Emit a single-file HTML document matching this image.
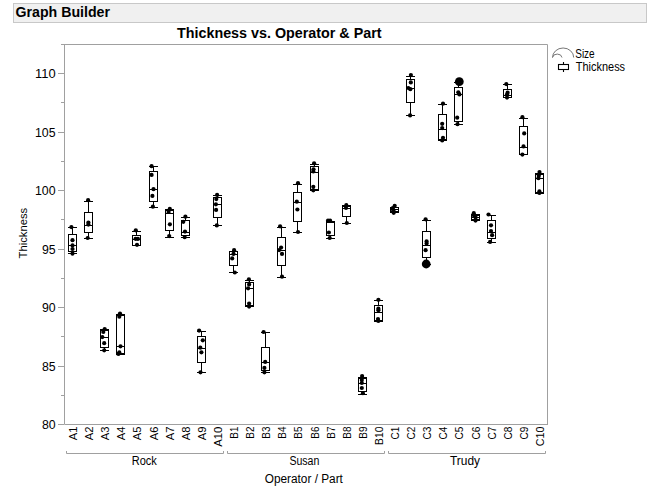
<!DOCTYPE html>
<html><head><meta charset="utf-8"><title>Graph Builder</title>
<style>html,body{margin:0;padding:0;background:#fff;} svg{display:block;}</style>
</head><body>
<svg width="648" height="490" viewBox="0 0 648 490">
<rect width="648" height="490" fill="#fff"/>
<rect x="13.5" y="3.5" width="633" height="19" fill="#f0f0f0" stroke="#c8c8c8" stroke-width="1"/>
<text x="15.5" y="17.3" font-family="'Liberation Sans', Arial, sans-serif" font-weight="bold" font-size="14" fill="#000" textLength="94.5" lengthAdjust="spacingAndGlyphs">Graph Builder</text>
<text x="177" y="37.6" font-family="'Liberation Sans', Arial, sans-serif" font-weight="bold" font-size="14.5" fill="#000" textLength="204.5" lengthAdjust="spacingAndGlyphs">Thickness vs. Operator &amp; Part</text>
<path d="M64.5 44 V424.5 H548 M64 44.5 H547.5 V424" fill="none" stroke="#a0a0a0" stroke-width="1"/>
<path d="M58 424.5 H64 M61 395.5 H64 M58 366.5 H64 M61 336.5 H64 M58 307.5 H64 M61 278.5 H64 M58 249.5 H64 M61 219.5 H64 M58 190.5 H64 M61 161.5 H64 M58 132.5 H64 M61 102.5 H64 M58 73.5 H64 M61 44.5 H64" stroke="#a0a0a0" stroke-width="1"/>
<text x="55.6" y="429.0" font-family="'Liberation Sans', Arial, sans-serif" font-size="12.3" fill="#000" text-anchor="end" textLength="13.7" lengthAdjust="spacingAndGlyphs">80</text>
<text x="55.6" y="371.0" font-family="'Liberation Sans', Arial, sans-serif" font-size="12.3" fill="#000" text-anchor="end" textLength="13.7" lengthAdjust="spacingAndGlyphs">85</text>
<text x="55.6" y="312.0" font-family="'Liberation Sans', Arial, sans-serif" font-size="12.3" fill="#000" text-anchor="end" textLength="13.7" lengthAdjust="spacingAndGlyphs">90</text>
<text x="55.6" y="254.0" font-family="'Liberation Sans', Arial, sans-serif" font-size="12.3" fill="#000" text-anchor="end" textLength="13.7" lengthAdjust="spacingAndGlyphs">95</text>
<text x="55.6" y="195.0" font-family="'Liberation Sans', Arial, sans-serif" font-size="12.3" fill="#000" text-anchor="end" textLength="20.6" lengthAdjust="spacingAndGlyphs">100</text>
<text x="55.6" y="137.0" font-family="'Liberation Sans', Arial, sans-serif" font-size="12.3" fill="#000" text-anchor="end" textLength="20.6" lengthAdjust="spacingAndGlyphs">105</text>
<text x="55.6" y="78.0" font-family="'Liberation Sans', Arial, sans-serif" font-size="12.3" fill="#000" text-anchor="end" textLength="20.6" lengthAdjust="spacingAndGlyphs">110</text>
<text transform="translate(27.4 233.1) rotate(-90)" font-family="'Liberation Sans', Arial, sans-serif" font-size="11.4" fill="#000" text-anchor="middle" textLength="50.6" lengthAdjust="spacingAndGlyphs">Thickness</text>
<path d="M72.5 227.5 V234.5 M72.5 251.5 V253.5 M68.0 227.5 H77.0 M68.0 253.5 H77.0 M68.5 245.5 H76.5" stroke="#000" stroke-width="1" fill="none"/>
<rect x="68.5" y="234.5" width="8" height="17" fill="none" stroke="#000" stroke-width="1"/>
<circle cx="71.4" cy="227.1" r="2.1" fill="#000"/>
<circle cx="72.5" cy="240.2" r="2.1" fill="#000"/>
<circle cx="72.5" cy="245.4" r="2.1" fill="#000"/>
<circle cx="72.5" cy="249.0" r="2.1" fill="#000"/>
<circle cx="72.5" cy="253.6" r="2.1" fill="#000"/>
<text transform="translate(77.2 426.6) rotate(-90)" font-family="'Liberation Sans', Arial, sans-serif" font-size="11.5" fill="#000" text-anchor="end" textLength="13.7" lengthAdjust="spacingAndGlyphs">A1</text>
<path d="M88.5 201.5 V212.5 M88.5 232.5 V238.5 M84.0 201.5 H93.0 M84.0 238.5 H93.0 M84.5 225.5 H92.5" stroke="#000" stroke-width="1" fill="none"/>
<rect x="84.5" y="212.5" width="8" height="20" fill="none" stroke="#000" stroke-width="1"/>
<circle cx="88.1" cy="200.2" r="2.1" fill="#000"/>
<circle cx="88.4" cy="222.5" r="2.1" fill="#000"/>
<circle cx="88.4" cy="224.6" r="2.1" fill="#000"/>
<circle cx="87.7" cy="238.0" r="2.1" fill="#000"/>
<text transform="translate(93.2 426.6) rotate(-90)" font-family="'Liberation Sans', Arial, sans-serif" font-size="11.5" fill="#000" text-anchor="end" textLength="13.7" lengthAdjust="spacingAndGlyphs">A2</text>
<path d="M104.5 329.5 V330.5 M104.5 347.5 V350.5 M100.0 329.5 H109.0 M100.0 350.5 H109.0 M100.5 337.5 H108.5" stroke="#000" stroke-width="1" fill="none"/>
<rect x="100.5" y="330.5" width="8" height="17" fill="none" stroke="#000" stroke-width="1"/>
<circle cx="104.7" cy="329.0" r="2.1" fill="#000"/>
<circle cx="103.3" cy="332.0" r="2.1" fill="#000"/>
<circle cx="102.3" cy="337.1" r="2.1" fill="#000"/>
<circle cx="104.2" cy="343.2" r="2.1" fill="#000"/>
<circle cx="104.2" cy="350.3" r="2.1" fill="#000"/>
<text transform="translate(109.2 426.6) rotate(-90)" font-family="'Liberation Sans', Arial, sans-serif" font-size="11.5" fill="#000" text-anchor="end" textLength="13.7" lengthAdjust="spacingAndGlyphs">A3</text>
<path d="M120.5 314.5 V315.5 M120.5 353.5 V354.5 M116.0 314.5 H125.0 M116.0 354.5 H125.0 M116.5 346.5 H124.5" stroke="#000" stroke-width="1" fill="none"/>
<rect x="116.5" y="315.5" width="8" height="38" fill="none" stroke="#000" stroke-width="1"/>
<circle cx="120.0" cy="313.6" r="2.1" fill="#000"/>
<circle cx="119.3" cy="316.7" r="2.1" fill="#000"/>
<circle cx="120.5" cy="346.3" r="2.1" fill="#000"/>
<circle cx="119.3" cy="352.4" r="2.1" fill="#000"/>
<circle cx="118.4" cy="353.9" r="2.1" fill="#000"/>
<text transform="translate(125.2 426.6) rotate(-90)" font-family="'Liberation Sans', Arial, sans-serif" font-size="11.5" fill="#000" text-anchor="end" textLength="13.7" lengthAdjust="spacingAndGlyphs">A4</text>
<path d="M136.5 231.5 V235.5 M132.0 231.5 H141.0 M132.0 245.5 H141.0 M132.5 239.5 H140.5" stroke="#000" stroke-width="1" fill="none"/>
<rect x="132.5" y="235.5" width="8" height="10" fill="none" stroke="#000" stroke-width="1"/>
<circle cx="135.8" cy="230.3" r="2.1" fill="#000"/>
<circle cx="135.6" cy="238.8" r="2.1" fill="#000"/>
<circle cx="137.9" cy="238.9" r="2.1" fill="#000"/>
<circle cx="137.0" cy="244.8" r="2.1" fill="#000"/>
<text transform="translate(141.2 426.6) rotate(-90)" font-family="'Liberation Sans', Arial, sans-serif" font-size="11.5" fill="#000" text-anchor="end" textLength="13.7" lengthAdjust="spacingAndGlyphs">A5</text>
<path d="M153.5 166.5 V171.5 M153.5 201.5 V207.5 M149.0 166.5 H158.0 M149.0 207.5 H158.0 M149.5 189.5 H157.5" stroke="#000" stroke-width="1" fill="none"/>
<rect x="149.5" y="171.5" width="8" height="30" fill="none" stroke="#000" stroke-width="1"/>
<circle cx="151.6" cy="166.2" r="2.1" fill="#000"/>
<circle cx="151.6" cy="174.9" r="2.1" fill="#000"/>
<circle cx="153.5" cy="189.2" r="2.1" fill="#000"/>
<circle cx="152.4" cy="195.9" r="2.1" fill="#000"/>
<circle cx="152.9" cy="206.7" r="2.1" fill="#000"/>
<text transform="translate(158.2 426.6) rotate(-90)" font-family="'Liberation Sans', Arial, sans-serif" font-size="11.5" fill="#000" text-anchor="end" textLength="13.7" lengthAdjust="spacingAndGlyphs">A6</text>
<path d="M169.5 209.5 V210.5 M169.5 230.5 V237.5 M165.0 209.5 H174.0 M165.0 237.5 H174.0 M165.5 213.5 H173.5" stroke="#000" stroke-width="1" fill="none"/>
<rect x="165.5" y="210.5" width="8" height="20" fill="none" stroke="#000" stroke-width="1"/>
<circle cx="169.8" cy="208.9" r="2.1" fill="#000"/>
<circle cx="168.6" cy="212.0" r="2.1" fill="#000"/>
<circle cx="169.9" cy="224.3" r="2.1" fill="#000"/>
<circle cx="169.2" cy="236.1" r="2.1" fill="#000"/>
<text transform="translate(174.2 426.6) rotate(-90)" font-family="'Liberation Sans', Arial, sans-serif" font-size="11.5" fill="#000" text-anchor="end" textLength="13.7" lengthAdjust="spacingAndGlyphs">A7</text>
<path d="M185.5 217.5 V220.5 M185.5 235.5 V237.5 M181.0 217.5 H190.0 M181.0 237.5 H190.0 M181.5 232.5 H189.5" stroke="#000" stroke-width="1" fill="none"/>
<rect x="181.5" y="220.5" width="8" height="15" fill="none" stroke="#000" stroke-width="1"/>
<circle cx="185.4" cy="216.7" r="2.1" fill="#000"/>
<circle cx="183.3" cy="221.8" r="2.1" fill="#000"/>
<circle cx="185.0" cy="231.6" r="2.1" fill="#000"/>
<circle cx="184.7" cy="237.2" r="2.1" fill="#000"/>
<text transform="translate(190.2 426.6) rotate(-90)" font-family="'Liberation Sans', Arial, sans-serif" font-size="11.5" fill="#000" text-anchor="end" textLength="13.7" lengthAdjust="spacingAndGlyphs">A8</text>
<path d="M201.5 331.5 V336.5 M201.5 362.5 V372.5 M197.0 331.5 H206.0 M197.0 372.5 H206.0 M197.5 348.5 H205.5" stroke="#000" stroke-width="1" fill="none"/>
<rect x="197.5" y="336.5" width="8" height="26" fill="none" stroke="#000" stroke-width="1"/>
<circle cx="199.1" cy="330.6" r="2.1" fill="#000"/>
<circle cx="202.8" cy="340.3" r="2.1" fill="#000"/>
<circle cx="200.3" cy="347.7" r="2.1" fill="#000"/>
<circle cx="201.4" cy="352.3" r="2.1" fill="#000"/>
<circle cx="200.5" cy="372.3" r="2.1" fill="#000"/>
<text transform="translate(206.2 426.6) rotate(-90)" font-family="'Liberation Sans', Arial, sans-serif" font-size="11.5" fill="#000" text-anchor="end" textLength="13.7" lengthAdjust="spacingAndGlyphs">A9</text>
<path d="M217.5 195.5 V197.5 M217.5 217.5 V225.5 M213.0 195.5 H222.0 M213.0 225.5 H222.0 M213.5 204.5 H221.5" stroke="#000" stroke-width="1" fill="none"/>
<rect x="213.5" y="197.5" width="8" height="20" fill="none" stroke="#000" stroke-width="1"/>
<circle cx="217.1" cy="194.9" r="2.1" fill="#000"/>
<circle cx="216.3" cy="199.1" r="2.1" fill="#000"/>
<circle cx="215.9" cy="204.3" r="2.1" fill="#000"/>
<circle cx="216.1" cy="209.9" r="2.1" fill="#000"/>
<circle cx="216.8" cy="225.4" r="2.1" fill="#000"/>
<text transform="translate(222.2 426.6) rotate(-90)" font-family="'Liberation Sans', Arial, sans-serif" font-size="11.5" fill="#000" text-anchor="end" textLength="20.2" lengthAdjust="spacingAndGlyphs">A10</text>
<path d="M233.5 265.5 V272.5 M229.0 251.5 H238.0 M229.0 272.5 H238.0 M229.5 254.5 H237.5" stroke="#000" stroke-width="1" fill="none"/>
<rect x="229.5" y="251.5" width="8" height="14" fill="none" stroke="#000" stroke-width="1"/>
<circle cx="234.1" cy="250.2" r="2.1" fill="#000"/>
<circle cx="233.5" cy="253.8" r="2.1" fill="#000"/>
<circle cx="232.2" cy="258.4" r="2.1" fill="#000"/>
<circle cx="234.8" cy="272.5" r="2.1" fill="#000"/>
<text transform="translate(238.2 426.6) rotate(-90)" font-family="'Liberation Sans', Arial, sans-serif" font-size="11.5" fill="#000" text-anchor="end" textLength="12.1" lengthAdjust="spacingAndGlyphs">B1</text>
<path d="M249.5 280.5 V282.5 M249.5 305.5 V306.5 M245.0 280.5 H254.0 M245.0 306.5 H254.0 M245.5 288.5 H253.5" stroke="#000" stroke-width="1" fill="none"/>
<rect x="245.5" y="282.5" width="8" height="23" fill="none" stroke="#000" stroke-width="1"/>
<circle cx="248.9" cy="279.3" r="2.1" fill="#000"/>
<circle cx="249.1" cy="284.5" r="2.1" fill="#000"/>
<circle cx="248.1" cy="288.3" r="2.1" fill="#000"/>
<circle cx="249.1" cy="303.5" r="2.1" fill="#000"/>
<circle cx="249.1" cy="306.6" r="2.1" fill="#000"/>
<text transform="translate(254.2 426.6) rotate(-90)" font-family="'Liberation Sans', Arial, sans-serif" font-size="11.5" fill="#000" text-anchor="end" textLength="12.1" lengthAdjust="spacingAndGlyphs">B2</text>
<path d="M265.5 332.5 V347.5 M265.5 370.5 V372.5 M261.0 332.5 H270.0 M261.0 372.5 H270.0 M261.5 362.5 H269.5" stroke="#000" stroke-width="1" fill="none"/>
<rect x="261.5" y="347.5" width="8" height="23" fill="none" stroke="#000" stroke-width="1"/>
<circle cx="263.6" cy="332.0" r="2.1" fill="#000"/>
<circle cx="265.2" cy="361.9" r="2.1" fill="#000"/>
<circle cx="264.4" cy="367.9" r="2.1" fill="#000"/>
<circle cx="264.4" cy="372.3" r="2.1" fill="#000"/>
<text transform="translate(270.2 426.6) rotate(-90)" font-family="'Liberation Sans', Arial, sans-serif" font-size="11.5" fill="#000" text-anchor="end" textLength="12.1" lengthAdjust="spacingAndGlyphs">B3</text>
<path d="M281.5 227.5 V237.5 M281.5 265.5 V277.5 M277.0 227.5 H286.0 M277.0 277.5 H286.0 M277.5 250.5 H285.5" stroke="#000" stroke-width="1" fill="none"/>
<rect x="277.5" y="237.5" width="8" height="28" fill="none" stroke="#000" stroke-width="1"/>
<circle cx="280.1" cy="226.3" r="2.1" fill="#000"/>
<circle cx="281.1" cy="247.6" r="2.1" fill="#000"/>
<circle cx="279.1" cy="250.1" r="2.1" fill="#000"/>
<circle cx="282.0" cy="253.9" r="2.1" fill="#000"/>
<circle cx="282.0" cy="276.7" r="2.1" fill="#000"/>
<text transform="translate(286.2 426.6) rotate(-90)" font-family="'Liberation Sans', Arial, sans-serif" font-size="11.5" fill="#000" text-anchor="end" textLength="12.1" lengthAdjust="spacingAndGlyphs">B4</text>
<path d="M297.5 184.5 V192.5 M297.5 221.5 V232.5 M293.0 184.5 H302.0 M293.0 232.5 H302.0 M293.5 202.5 H301.5" stroke="#000" stroke-width="1" fill="none"/>
<rect x="293.5" y="192.5" width="8" height="29" fill="none" stroke="#000" stroke-width="1"/>
<circle cx="298.0" cy="183.2" r="2.1" fill="#000"/>
<circle cx="296.8" cy="201.7" r="2.1" fill="#000"/>
<circle cx="297.4" cy="209.5" r="2.1" fill="#000"/>
<circle cx="298.0" cy="232.0" r="2.1" fill="#000"/>
<text transform="translate(302.2 426.6) rotate(-90)" font-family="'Liberation Sans', Arial, sans-serif" font-size="11.5" fill="#000" text-anchor="end" textLength="12.1" lengthAdjust="spacingAndGlyphs">B5</text>
<path d="M314.5 164.5 V166.5 M314.5 189.5 V190.5 M310.0 164.5 H319.0 M310.0 190.5 H319.0 M310.5 172.5 H318.5" stroke="#000" stroke-width="1" fill="none"/>
<rect x="310.5" y="166.5" width="8" height="23" fill="none" stroke="#000" stroke-width="1"/>
<circle cx="314.1" cy="163.3" r="2.1" fill="#000"/>
<circle cx="313.5" cy="169.3" r="2.1" fill="#000"/>
<circle cx="313.3" cy="171.4" r="2.1" fill="#000"/>
<circle cx="313.3" cy="186.8" r="2.1" fill="#000"/>
<circle cx="313.3" cy="190.3" r="2.1" fill="#000"/>
<text transform="translate(319.2 426.6) rotate(-90)" font-family="'Liberation Sans', Arial, sans-serif" font-size="11.5" fill="#000" text-anchor="end" textLength="12.1" lengthAdjust="spacingAndGlyphs">B6</text>
<path d="M330.5 221.5 V222.5 M330.5 235.5 V238.5 M326.0 221.5 H335.0 M326.0 238.5 H335.0 M326.5 222.5 H334.5" stroke="#000" stroke-width="1" fill="none"/>
<rect x="326.5" y="222.5" width="8" height="13" fill="none" stroke="#000" stroke-width="1"/>
<circle cx="328.0" cy="220.7" r="2.1" fill="#000"/>
<circle cx="330.1" cy="220.7" r="2.1" fill="#000"/>
<circle cx="328.9" cy="232.5" r="2.1" fill="#000"/>
<circle cx="329.7" cy="238.0" r="2.1" fill="#000"/>
<text transform="translate(335.2 426.6) rotate(-90)" font-family="'Liberation Sans', Arial, sans-serif" font-size="11.5" fill="#000" text-anchor="end" textLength="12.1" lengthAdjust="spacingAndGlyphs">B7</text>
<path d="M346.5 205.5 V206.5 M346.5 216.5 V223.5 M342.0 205.5 H351.0 M342.0 223.5 H351.0 M342.5 208.5 H350.5" stroke="#000" stroke-width="1" fill="none"/>
<rect x="342.5" y="206.5" width="8" height="10" fill="none" stroke="#000" stroke-width="1"/>
<circle cx="346.3" cy="205.2" r="2.1" fill="#000"/>
<circle cx="346.0" cy="208.0" r="2.1" fill="#000"/>
<circle cx="346.8" cy="223.0" r="2.1" fill="#000"/>
<text transform="translate(351.2 426.6) rotate(-90)" font-family="'Liberation Sans', Arial, sans-serif" font-size="11.5" fill="#000" text-anchor="end" textLength="12.1" lengthAdjust="spacingAndGlyphs">B8</text>
<path d="M362.5 377.5 V378.5 M362.5 391.5 V394.5 M358.0 377.5 H367.0 M358.0 394.5 H367.0 M358.5 383.5 H366.5" stroke="#000" stroke-width="1" fill="none"/>
<rect x="358.5" y="378.5" width="8" height="13" fill="none" stroke="#000" stroke-width="1"/>
<circle cx="362.1" cy="376.1" r="2.1" fill="#000"/>
<circle cx="361.8" cy="380.1" r="2.1" fill="#000"/>
<circle cx="361.8" cy="383.0" r="2.1" fill="#000"/>
<circle cx="361.8" cy="388.0" r="2.1" fill="#000"/>
<circle cx="362.9" cy="393.2" r="2.1" fill="#000"/>
<text transform="translate(367.2 426.6) rotate(-90)" font-family="'Liberation Sans', Arial, sans-serif" font-size="11.5" fill="#000" text-anchor="end" textLength="12.1" lengthAdjust="spacingAndGlyphs">B9</text>
<path d="M378.5 300.5 V305.5 M378.5 320.5 V321.5 M374.0 300.5 H383.0 M374.0 321.5 H383.0 M374.5 312.5 H382.5" stroke="#000" stroke-width="1" fill="none"/>
<rect x="374.5" y="305.5" width="8" height="15" fill="none" stroke="#000" stroke-width="1"/>
<circle cx="378.4" cy="299.8" r="2.1" fill="#000"/>
<circle cx="378.4" cy="308.7" r="2.1" fill="#000"/>
<circle cx="378.4" cy="310.2" r="2.1" fill="#000"/>
<circle cx="378.0" cy="319.0" r="2.1" fill="#000"/>
<circle cx="378.3" cy="321.0" r="2.1" fill="#000"/>
<text transform="translate(383.2 426.6) rotate(-90)" font-family="'Liberation Sans', Arial, sans-serif" font-size="11.5" fill="#000" text-anchor="end" textLength="18.3" lengthAdjust="spacingAndGlyphs">B10</text>
<path d="M394.5 211.5 V212.5 M390.0 207.5 H399.0 M390.0 212.5 H399.0 M390.5 209.5 H398.5" stroke="#000" stroke-width="1" fill="none"/>
<rect x="390.5" y="207.5" width="8" height="4" fill="none" stroke="#000" stroke-width="1"/>
<circle cx="394.7" cy="205.8" r="2.1" fill="#000"/>
<circle cx="392.8" cy="208.0" r="2.1" fill="#000"/>
<circle cx="393.4" cy="210.2" r="2.1" fill="#000"/>
<circle cx="393.7" cy="212.8" r="2.1" fill="#000"/>
<text transform="translate(399.2 426.6) rotate(-90)" font-family="'Liberation Sans', Arial, sans-serif" font-size="11.5" fill="#000" text-anchor="end" textLength="12.9" lengthAdjust="spacingAndGlyphs">C1</text>
<path d="M410.5 76.5 V79.5 M410.5 102.5 V115.5 M406.0 76.5 H415.0 M406.0 115.5 H415.0 M406.5 88.5 H414.5" stroke="#000" stroke-width="1" fill="none"/>
<rect x="406.5" y="79.5" width="8" height="23" fill="none" stroke="#000" stroke-width="1"/>
<circle cx="410.9" cy="75.1" r="2.1" fill="#000"/>
<circle cx="410.8" cy="82.4" r="2.1" fill="#000"/>
<circle cx="408.3" cy="88.0" r="2.1" fill="#000"/>
<circle cx="410.3" cy="89.2" r="2.1" fill="#000"/>
<circle cx="410.1" cy="115.4" r="2.1" fill="#000"/>
<text transform="translate(415.2 426.6) rotate(-90)" font-family="'Liberation Sans', Arial, sans-serif" font-size="11.5" fill="#000" text-anchor="end" textLength="12.9" lengthAdjust="spacingAndGlyphs">C2</text>
<path d="M426.5 220.5 V231.5 M426.5 257.5 V264.5 M422.0 220.5 H431.0 M422.0 264.5 H431.0 M422.5 245.5 H430.5" stroke="#000" stroke-width="1" fill="none"/>
<rect x="422.5" y="231.5" width="8" height="26" fill="none" stroke="#000" stroke-width="1"/>
<circle cx="425.6" cy="219.3" r="2.1" fill="#000"/>
<circle cx="426.6" cy="241.4" r="2.1" fill="#000"/>
<circle cx="426.6" cy="243.6" r="2.1" fill="#000"/>
<circle cx="425.6" cy="250.2" r="2.1" fill="#000"/>
<circle cx="426.2" cy="264.0" r="4.4" fill="#000"/>
<text transform="translate(431.2 426.6) rotate(-90)" font-family="'Liberation Sans', Arial, sans-serif" font-size="11.5" fill="#000" text-anchor="end" textLength="12.9" lengthAdjust="spacingAndGlyphs">C3</text>
<path d="M442.5 104.5 V114.5 M442.5 139.5 V140.5 M438.0 104.5 H447.0 M438.0 140.5 H447.0 M438.5 129.5 H446.5" stroke="#000" stroke-width="1" fill="none"/>
<rect x="438.5" y="114.5" width="8" height="25" fill="none" stroke="#000" stroke-width="1"/>
<circle cx="443.0" cy="103.7" r="2.1" fill="#000"/>
<circle cx="442.2" cy="123.8" r="2.1" fill="#000"/>
<circle cx="442.2" cy="128.1" r="2.1" fill="#000"/>
<circle cx="443.0" cy="137.8" r="2.1" fill="#000"/>
<circle cx="442.2" cy="140.4" r="2.1" fill="#000"/>
<text transform="translate(447.2 426.6) rotate(-90)" font-family="'Liberation Sans', Arial, sans-serif" font-size="11.5" fill="#000" text-anchor="end" textLength="12.9" lengthAdjust="spacingAndGlyphs">C4</text>
<path d="M458.5 82.5 V87.5 M458.5 121.5 V124.5 M454.0 82.5 H463.0 M454.0 124.5 H463.0 M454.5 94.5 H462.5" stroke="#000" stroke-width="1" fill="none"/>
<rect x="454.5" y="87.5" width="8" height="34" fill="none" stroke="#000" stroke-width="1"/>
<circle cx="458.3" cy="92.3" r="2.1" fill="#000"/>
<circle cx="459.4" cy="94.4" r="2.1" fill="#000"/>
<circle cx="457.2" cy="117.7" r="2.1" fill="#000"/>
<circle cx="457.5" cy="124.2" r="2.1" fill="#000"/>
<circle cx="459.3" cy="81.7" r="4.4" fill="#000"/>
<text transform="translate(463.2 426.6) rotate(-90)" font-family="'Liberation Sans', Arial, sans-serif" font-size="11.5" fill="#000" text-anchor="end" textLength="12.9" lengthAdjust="spacingAndGlyphs">C5</text>
<path d="M475.5 214.5 V215.5 M475.5 219.5 V220.5 M471.0 214.5 H480.0 M471.0 220.5 H480.0 M471.5 217.5 H479.5" stroke="#000" stroke-width="1" fill="none"/>
<rect x="471.5" y="215.5" width="8" height="4" fill="none" stroke="#000" stroke-width="1"/>
<circle cx="473.8" cy="213.2" r="2.1" fill="#000"/>
<circle cx="474.0" cy="215.6" r="2.1" fill="#000"/>
<circle cx="475.6" cy="217.4" r="2.1" fill="#000"/>
<circle cx="475.5" cy="220.6" r="2.1" fill="#000"/>
<text transform="translate(480.2 426.6) rotate(-90)" font-family="'Liberation Sans', Arial, sans-serif" font-size="11.5" fill="#000" text-anchor="end" textLength="12.9" lengthAdjust="spacingAndGlyphs">C6</text>
<path d="M491.5 215.5 V220.5 M491.5 238.5 V242.5 M487.0 215.5 H496.0 M487.0 242.5 H496.0 M487.5 232.5 H495.5" stroke="#000" stroke-width="1" fill="none"/>
<rect x="487.5" y="220.5" width="8" height="18" fill="none" stroke="#000" stroke-width="1"/>
<circle cx="488.5" cy="214.5" r="2.1" fill="#000"/>
<circle cx="491.0" cy="225.3" r="2.1" fill="#000"/>
<circle cx="491.0" cy="231.1" r="2.1" fill="#000"/>
<circle cx="492.1" cy="235.2" r="2.1" fill="#000"/>
<circle cx="490.1" cy="241.9" r="2.1" fill="#000"/>
<text transform="translate(496.2 426.6) rotate(-90)" font-family="'Liberation Sans', Arial, sans-serif" font-size="11.5" fill="#000" text-anchor="end" textLength="12.9" lengthAdjust="spacingAndGlyphs">C7</text>
<path d="M507.5 84.5 V89.5 M503.0 84.5 H512.0 M503.0 97.5 H512.0 M503.5 95.5 H511.5" stroke="#000" stroke-width="1" fill="none"/>
<rect x="503.5" y="89.5" width="8" height="8" fill="none" stroke="#000" stroke-width="1"/>
<circle cx="506.3" cy="84.1" r="2.1" fill="#000"/>
<circle cx="507.6" cy="92.7" r="2.1" fill="#000"/>
<circle cx="507.0" cy="94.6" r="2.1" fill="#000"/>
<circle cx="507.0" cy="97.6" r="2.1" fill="#000"/>
<text transform="translate(512.2 426.6) rotate(-90)" font-family="'Liberation Sans', Arial, sans-serif" font-size="11.5" fill="#000" text-anchor="end" textLength="12.9" lengthAdjust="spacingAndGlyphs">C8</text>
<path d="M523.5 118.5 V126.5 M519.0 118.5 H528.0 M519.0 154.5 H528.0 M519.5 147.5 H527.5" stroke="#000" stroke-width="1" fill="none"/>
<rect x="519.5" y="126.5" width="8" height="28" fill="none" stroke="#000" stroke-width="1"/>
<circle cx="522.4" cy="117.2" r="2.1" fill="#000"/>
<circle cx="524.2" cy="133.4" r="2.1" fill="#000"/>
<circle cx="523.5" cy="146.4" r="2.1" fill="#000"/>
<circle cx="522.4" cy="154.6" r="2.1" fill="#000"/>
<text transform="translate(528.2 426.6) rotate(-90)" font-family="'Liberation Sans', Arial, sans-serif" font-size="11.5" fill="#000" text-anchor="end" textLength="12.9" lengthAdjust="spacingAndGlyphs">C9</text>
<path d="M539.5 173.5 V174.5 M539.5 192.5 V193.5 M535.0 173.5 H544.0 M535.0 193.5 H544.0 M535.5 178.5 H543.5" stroke="#000" stroke-width="1" fill="none"/>
<rect x="535.5" y="174.5" width="8" height="18" fill="none" stroke="#000" stroke-width="1"/>
<circle cx="539.5" cy="172.0" r="2.1" fill="#000"/>
<circle cx="538.8" cy="175.8" r="2.1" fill="#000"/>
<circle cx="538.4" cy="178.2" r="2.1" fill="#000"/>
<circle cx="539.4" cy="191.4" r="2.1" fill="#000"/>
<circle cx="539.4" cy="192.9" r="2.1" fill="#000"/>
<text transform="translate(544.2 426.6) rotate(-90)" font-family="'Liberation Sans', Arial, sans-serif" font-size="11.5" fill="#000" text-anchor="end" textLength="19.6" lengthAdjust="spacingAndGlyphs">C10</text>
<path d="M66.5 451 V453.5 H223.5 V451 M227.5 451 V453.5 H384.5 V451 M388.5 451 V453.5 H545.5 V451" stroke="#a0a0a0" stroke-width="1" fill="none"/>
<text x="144.3" y="465.2" font-family="'Liberation Sans', Arial, sans-serif" font-size="12" fill="#000" text-anchor="middle" textLength="25.1" lengthAdjust="spacingAndGlyphs">Rock</text>
<text x="304.4" y="465.2" font-family="'Liberation Sans', Arial, sans-serif" font-size="12" fill="#000" text-anchor="middle" textLength="30" lengthAdjust="spacingAndGlyphs">Susan</text>
<text x="465" y="465.2" font-family="'Liberation Sans', Arial, sans-serif" font-size="12" fill="#000" text-anchor="middle" textLength="30" lengthAdjust="spacingAndGlyphs">Trudy</text>
<text x="303.8" y="483" font-family="'Liberation Sans', Arial, sans-serif" font-size="12" fill="#000" text-anchor="middle" textLength="78.2" lengthAdjust="spacingAndGlyphs">Operator / Part</text>
<path d="M552.5 57.5 A10.6 9.5 0 0 1 573.7 57.5" stroke="#777" stroke-width="1" fill="none"/>
<path d="M552.5 57.5 A4.8 4 0 0 1 562 57.5" stroke="#777" stroke-width="1" fill="none"/>
<text x="575.2" y="58.2" font-family="'Liberation Sans', Arial, sans-serif" font-size="12" fill="#000" textLength="19.5" lengthAdjust="spacingAndGlyphs">Size</text>
<path d="M563.5 62 V64.5 M563.5 69.5 V72" stroke="#000" stroke-width="1.1" fill="none"/>
<rect x="558.5" y="64.5" width="10" height="5" fill="none" stroke="#000" stroke-width="1.1"/>
<text x="575.8" y="71.4" font-family="'Liberation Sans', Arial, sans-serif" font-size="12" fill="#000" textLength="49.3" lengthAdjust="spacingAndGlyphs">Thickness</text>
</svg>
</body></html>
